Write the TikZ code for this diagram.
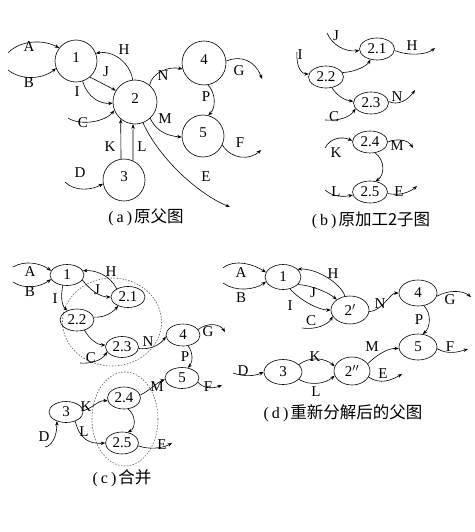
\documentclass[tikz,border=0pt]{standalone}
\usepackage{fontspec}
\setmainfont{Liberation Serif}
\newfontfamily\cjk{Noto Sans CJK SC}
\usetikzlibrary{arrows.meta,shapes.geometric}
\newcommand{\captxt}[2]{(\hspace{3pt}#1\hspace{3pt})\hspace{2pt}{\cjk\fontsize{16.5}{16.5}\selectfont #2}}
\begin{document}
\begin{tikzpicture}[x=1pt,y=-1pt,
  every node/.style={font=\fontsize{15}{15}\selectfont},
  circ/.style={circle,draw,line width=0.6pt,minimum size=42pt,inner sep=0pt},
  ell/.style={ellipse,draw,line width=0.6pt,minimum width=35pt,minimum height=22pt,inner sep=0pt},
  lab/.style={inner sep=0pt},
  arr/.style={line width=0.6pt,-{Stealth[length=4.5pt,width=3.5pt]}},
  grp/.style={line width=0.6pt,gray!70!black,dash pattern=on 1.5pt off 1.5pt},
  captext/.style={inner sep=0pt,font=\fontsize{16}{16}\selectfont}]
\useasboundingbox (0,0) rectangle (474,532);
% ================= (a) =================
\node[circ] (a1) at (76,61) {\raisebox{6pt}{1}};
\node[circ,minimum size=44pt] (a2) at (135,102) {\raisebox{6pt}{2}};
\node[circ] (a3) at (124,180) {\raisebox{6pt}{3}};
\node[circ,minimum size=44pt] (a4) at (204,63) {\raisebox{6pt}{4}};
\node[circ] (a5) at (203,136) {\raisebox{6pt}{5}};
\coordinate (aA) at (8,53);
\coordinate (aB) at (8,70);
\coordinate (aC) at (68,118);
\coordinate (aD) at (65,182);
\coordinate (aE) at (230,207);
\coordinate (aG) at (262,79);
\coordinate (aF) at (261,150);
\draw[arr] (aA) .. controls (18,42) and (40,38) .. (a1.142);
\draw[arr] (aB) .. controls (20,80) and (42,80) .. (a1.200);
\draw[arr] (a2.96) .. controls (130,62) and (112,50) .. (a1.21);
\draw[arr] (a1.311) -- (a2.149);
\draw[arr] (a1.288) .. controls (88,98) and (100,104) .. (a2.183);
\draw[arr] (aC) .. controls (80,126) and (105,122) .. (a2.202);
\draw[arr] (a3.98) -- (a2.230);
\draw[arr] (a3.65) -- (a2.265);
\draw[arr] (aD) .. controls (75,192) and (92,190) .. (a3.190);
\draw[arr] (a2.291) .. controls (160,160) and (200,195) .. (aE);
\draw[arr] (a2.49) .. controls (152,72) and (170,66) .. (a4.196);
\draw[arr] (a2.313) .. controls (157,133) and (170,136) .. (a5.183);
\draw[arr] (a4.280) .. controls (216,93) and (216,108) .. (a5.76);
\draw[arr] (a4.5) .. controls (240,55) and (255,60) .. (aG);
\draw[arr] (a5.335) .. controls (232,160) and (250,160) .. (aF);
\node[lab] (laA) at (29,47) {A};
\node[lab] (laB) at (29,83) {B};
\node[lab] (laH) at (124,50) {H};
\node[lab] (laJ) at (106,72) {J};
\node[lab] (laI) at (77,92) {I};
\node[lab] (laN) at (163,76) {N};
\node[lab] (laG) at (239,71) {G};
\node[lab] (laP) at (206,97) {P};
\node[lab] (laM) at (165,119) {M};
\node[lab] (laF) at (240,143) {F};
\node[lab] (laC) at (83,123) {C};
\node[lab] (laK) at (110,147) {K};
\node[lab] (laL) at (142,147) {L};
\node[lab] (laD) at (80,173) {D};
\node[lab] (laE) at (206,177) {E};
\node[captext] (capa) at (146,217) {\captxt{a}{原父图}};
% ================= (b) =================
\node[ell] (b21) at (377,49) {2.1};
\node[ell] (b22) at (326,77) {2.2};
\node[ell] (b23) at (371,103) {2.3};
\node[ell] (b24) at (370,142) {2.4};
\node[ell] (b25) at (370,192) {2.5};
\coordinate (bJ) at (327,33);
\coordinate (bH) at (435,48);
\coordinate (bI) at (297,52);
\coordinate (bC) at (325,120);
\coordinate (bN) at (415,90);
\coordinate (bK) at (325,148);
\coordinate (bM) at (413,148);
\coordinate (bL) at (325,190);
\coordinate (bE) at (417,186);
\draw[arr] (bJ) .. controls (332,45) and (345,52) .. (b21.185);
\draw[arr] (b21.355) .. controls (408,56) and (426,55) .. (bH);
\draw[arr] (bI) .. controls (296,68) and (302,74) .. (b22.170);
\draw[arr] (b22.15) .. controls (355,72) and (367,66) .. (b21.238);
\draw[arr] (b22.299) .. controls (338,97) and (345,100) .. (b23.175);
\draw[arr] (bC) .. controls (340,121) and (350,117) .. (b23.200);
\draw[arr] (b23.5) .. controls (398,106) and (408,100) .. (bN);
\draw[arr] (bK) .. controls (330,138) and (342,136) .. (b24.176);
\draw[arr] (b24.0) .. controls (398,138) and (408,140) .. (bM);
\draw[arr] (b24.295) .. controls (385,160) and (385,175) .. (b25.63);
\draw[arr] (bL) .. controls (333,197) and (343,197) .. (b25.190);
\draw[arr] (b25.355) .. controls (400,196) and (410,192) .. (bE);
\node[lab] (lbJ) at (336,36) {J};
\node[lab] (lbH) at (412,46) {H};
\node[lab] (lbI) at (300,55) {I};
\node[lab] (lbN) at (397,97) {N};
\node[lab] (lbC) at (334,117) {C};
\node[lab] (lbK) at (336,153) {K};
\node[lab] (lbM) at (397,146) {M};
\node[lab] (lbL) at (336,192) {L};
\node[lab] (lbE) at (399,192) {E};
\node[captext] (capb) at (371,220) {\captxt{b}{原加工2子图}};
% ================= (c) =================
\draw[grp] (112,322) ellipse [x radius=49.5, y radius=44];
\draw[grp] (125,419) ellipse [x radius=33, y radius=47];
\node[ell,minimum width=34pt,minimum height=21pt] (c1) at (67,275) {1};
\node[ell,minimum width=34pt,minimum height=21pt] (c21) at (128,297) {2.1};
\node[ell,minimum width=34pt,minimum height=22pt] (c22) at (77,320) {2.2};
\node[ell,minimum width=33pt,minimum height=21pt] (c23) at (122,347) {2.3};
\node[ell,minimum width=34pt,minimum height=22pt] (c4) at (183,335) {4};
\node[ell,minimum width=34pt,minimum height=21pt] (c5) at (182,378) {5};
\node[ell,minimum width=33pt,minimum height=22pt] (c24) at (124,398) {2.4};
\node[ell,minimum width=33pt,minimum height=22pt] (c25) at (122,443) {2.5};
\node[ell,minimum width=34pt,minimum height=21pt] (c3) at (66,412) {3};
\coordinate (cA) at (13,267);
\coordinate (cB) at (13,282);
\coordinate (cC) at (80,363);
\coordinate (cG) at (225,332);
\coordinate (cF) at (222,385);
\coordinate (cD) at (45,447);
\coordinate (cE) at (172,443);
\draw[arr] (cA) .. controls (25,260) and (40,263) .. (c1.165);
\draw[arr] (cB) .. controls (25,290) and (40,287) .. (c1.195);
\draw[arr] (c21.144) .. controls (110,275) and (95,270) .. (c1.15);
\draw[arr] (c1.342) .. controls (90,290) and (100,297) .. (c21.180);
\draw[arr] (c1.248) .. controls (61,295) and (61,305) .. (c22.135);
\draw[arr] (c22.10) .. controls (105,318) and (113,312) .. (c21.222);
\draw[arr] (c22.306) .. controls (90,340) and (98,345) .. (c23.173);
\draw[arr] (cC) .. controls (92,364) and (102,360) .. (c23.198);
\draw[arr] (c23.355) .. controls (150,350) and (160,345) .. (c4.185);
\draw[arr] (c4.20) .. controls (208,322) and (220,324) .. (cG);
\draw[arr] (c4.295) .. controls (193,352) and (193,362) .. (c5.60);
\draw[arr] (c24.10) .. controls (150,390) and (158,382) .. (c5.185);
\draw[arr] (c5.345) .. controls (205,390) and (215,388) .. (cF);
\draw[arr] (c3.5) .. controls (90,410) and (98,400) .. (c24.190);
\draw[arr] (c3.315) .. controls (80,440) and (90,444) .. (c25.180);
\draw[arr] (c24.290) .. controls (136,415) and (136,428) .. (c25.62);
\draw[arr] (cD) .. controls (52,446) and (57,436) .. (c3.225);
\draw[arr] (c25.350) .. controls (150,450) and (163,448) .. (cE);
\node[lab] (lcA) at (30,272) {A};
\node[lab] (lcB) at (30,292) {B};
\node[lab] (lcH) at (111,272) {H};
\node[lab] (lcJ) at (97,290) {J};
\node[lab] (lcI) at (55,299) {I};
\node[lab] (lcC) at (91,358) {C};
\node[lab] (lcN) at (148,342) {N};
\node[lab] (lcG) at (208,332) {G};
\node[lab] (lcP) at (185,357) {P};
\node[lab] (lcM) at (157,387) {M};
\node[lab] (lcF) at (208,387) {F};
\node[lab] (lcK) at (86,407) {K};
\node[lab] (lcL) at (84,432) {L};
\node[lab] (lcD) at (44,437) {D};
\node[lab] (lcE) at (162,445) {E};
\node[captext] (capc) at (122,478) {\captxt{c}{合并}};
% ================= (d) =================
\node[ell,minimum width=36pt,minimum height=25pt] (d1) at (283,277) {1};
\node[ell,minimum width=38pt,minimum height=28pt] (d2p) at (350,310) {2$'$};
\node[ell,minimum width=38pt,minimum height=26pt] (d4) at (418,293) {4};
\node[ell,minimum width=38pt,minimum height=26pt] (d5) at (418,347) {5};
\node[ell,minimum width=38pt,minimum height=25pt] (d3) at (283,372) {3};
\node[ell,minimum width=36pt,minimum height=28pt] (d2pp) at (352,371) {2$''$};
\coordinate (dA) at (223,268);
\coordinate (dB) at (223,283);
\coordinate (dC) at (302,328);
\coordinate (dG) at (471,297);
\coordinate (dF) at (468,349);
\coordinate (dD) at (233,373);
\coordinate (dE) at (402,374);
\draw[arr] (dA) .. controls (235,258) and (255,265) .. (d1.165);
\draw[arr] (dB) .. controls (235,292) and (255,290) .. (d1.195);
\draw[arr] (d2p.110) .. controls (340,282) and (315,268) .. (d1.28);
\draw[arr] (d1.333) .. controls (310,285) and (328,292) .. (d2p.142);
\draw[arr] (d1.300) .. controls (300,300) and (318,310) .. (d2p.180);
\draw[arr] (dC) .. controls (315,330) and (328,325) .. (d2p.200);
\draw[arr] (d2p.355) .. controls (382,311) and (390,293) .. (d4.180);
\draw[arr] (d4.350) .. controls (448,290) and (462,290) .. (dG);
\draw[arr] (d4.295) .. controls (432,314) and (430,328) .. (d5.70);
\draw[arr] (d2pp.25) .. controls (380,352) and (390,348) .. (d5.185);
\draw[arr] (d5.355) .. controls (448,355) and (458,352) .. (dF);
\draw[arr] (dD) .. controls (245,377) and (255,376) .. (d3.180);
\draw[arr] (d3.25) .. controls (310,356) and (325,358) .. (d2pp.165);
\draw[arr] (d3.335) .. controls (310,386) and (325,384) .. (d2pp.195);
\draw[arr] (d2pp.340) .. controls (380,385) and (392,380) .. (dE);
\node[lab] (ldA) at (241,273) {A};
\node[lab] (ldB) at (241,298) {B};
\node[lab] (ldH) at (333,274) {H};
\node[lab] (ldJ) at (313,293) {J};
\node[lab] (ldI) at (290,306) {I};
\node[lab] (ldC) at (311,321) {C};
\node[lab] (ldN) at (380,304) {N};
\node[lab] (ldG) at (450,300) {G};
\node[lab] (ldP) at (419,320) {P};
\node[lab] (ldM) at (372,347) {M};
\node[lab] (ldF) at (450,347) {F};
\node[lab] (ldK) at (315,357) {K};
\node[lab] (ldD) at (243,371) {D};
\node[lab] (ldL) at (316,392) {L};
\node[lab] (ldE) at (383,374) {E};
\node[captext] (capd) at (343,413) {\captxt{d}{重新分解后的父图}};
\end{tikzpicture}
\end{document}
